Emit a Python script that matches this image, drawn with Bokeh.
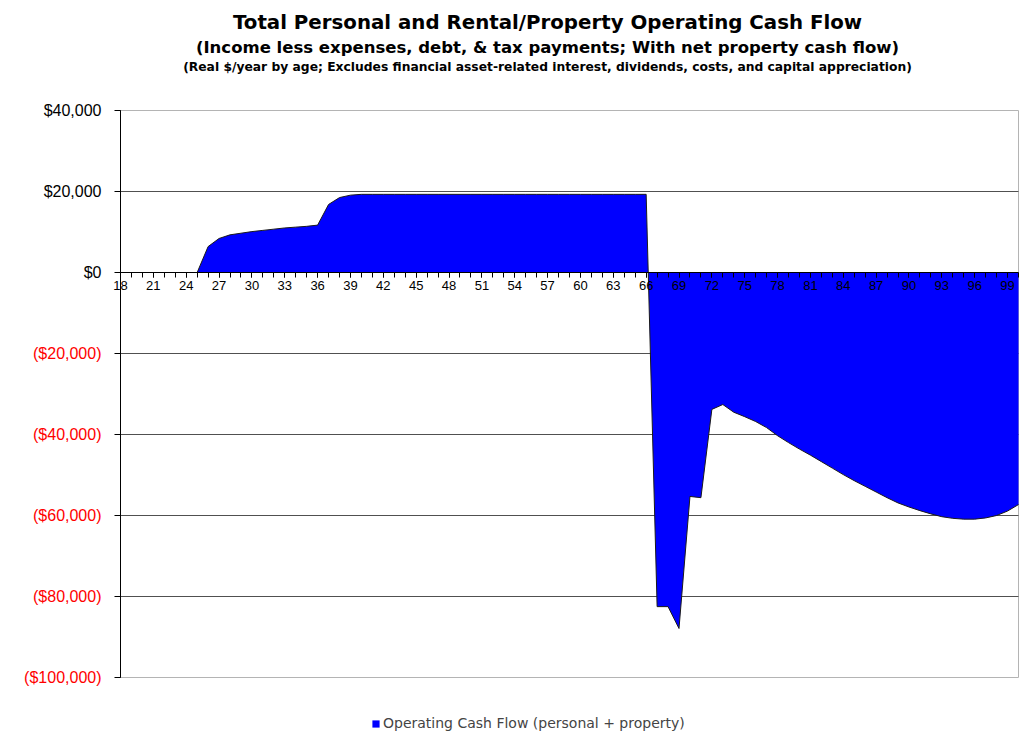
from bokeh.plotting import figure
from bokeh.models import (Range1d, FixedTicker, Label, ColumnDataSource,
                          Legend, LegendItem, LinearAxis)
from bokeh.embed import file_html
from bokeh.resources import INLINE

# ---------------- data ----------------
ages = list(range(18, 101))
cash_flow = [
    0, 0, 0, 0, 0, 0, 0,                      # 18-24
    0, 6400, 8400, 9300, 9700,                # 25-29
    10100, 10400, 10700, 11000, 11200,        # 30-34
    11400, 11700, 16800, 18500, 19100,        # 35-39
    19300, 19300, 19300, 19300, 19300,        # 40-44
    19300, 19300, 19300, 19300, 19300,        # 45-49
    19300, 19300, 19300, 19300, 19300,        # 50-54
    19300, 19300, 19300, 19300, 19300,        # 55-59
    19300, 19300, 19300, 19300, 19300,        # 60-64
    19300, 19300,                             # 65-66
    -82500, -82500, -87900,                   # 67-69
    -55300, -55600, -33800, -32600, -34500,   # 70-74
    -35600, -36800, -38300, -40300, -42000,   # 75-79
    -43600, -45100, -46700, -48300, -49900,   # 80-84
    -51400, -52800, -54200, -55600, -56900,   # 85-89
    -57900, -58800, -59600, -60300, -60700,   # 90-94
    -60900, -60900, -60600, -60000, -58900,   # 95-99
    -57300,                                   # 100
]
assert len(cash_flow) == len(ages)

x_tick_ages = list(range(18, 101, 3))
y_tick_values = [-100000, -80000, -60000, -40000, -20000, 0, 20000, 40000]
y_tick_labels = ["($100,000)", "($80,000)", "($60,000)", "($40,000)", "($20,000)",
                 "$0", "$20,000", "$40,000"]

title_text = "Total Personal and Rental/Property Operating Cash Flow"
subtitle1 = "(Income less expenses, debt, & tax payments; With net property cash flow)"
subtitle2 = ("(Real $/year by age; Excludes financial asset-related interest, dividends, "
             "costs, and capital appreciation)")
series_name = "Operating Cash Flow (personal + property)"

# ---------------- layout geometry (pixels) ----------------
W, H = 1024, 733
area_left, area_right, area_top, area_bottom = 120, 1018, 110, 677
x_lo, x_hi = ages[0], ages[-1]
y_lo, y_hi = y_tick_values[0], y_tick_values[-1]
ppx = (x_hi - x_lo) / (area_right - area_left)
ppy = (y_hi - y_lo) / (area_bottom - area_top)

p = figure(width=W, height=H, output_backend="svg", toolbar_location=None,
           x_range=Range1d(x_lo - area_left * ppx, x_hi + (W - area_right) * ppx),
           y_range=Range1d(y_lo - (H - area_bottom) * ppy, y_hi + area_top * ppy),
           x_axis_location=None, y_axis_location=None,
           min_border=0, min_border_left=0, min_border_right=0,
           min_border_top=0, min_border_bottom=0)
p.outline_line_color = None
p.grid.visible = False
p.background_fill_color = "white"
p.border_fill_color = "white"

# plot-area border (light gray)
p.quad(left=[x_lo], right=[x_hi], bottom=[y_lo], top=[y_hi], fill_color=None,
       line_color="#b4b4b4", line_width=1)

# horizontal gridlines
grid_vals = [v for v in y_tick_values if y_lo < v < y_hi and v != 0]
p.segment(x0=[x_lo] * len(grid_vals), x1=[x_hi] * len(grid_vals),
          y0=grid_vals, y1=grid_vals, line_color="#505050", line_width=1)

src = ColumnDataSource(dict(age=ages, cf=cash_flow, zero=[0] * len(ages)))
area = p.varea(x="age", y1="zero", y2="cf", source=src, fill_color="#0000FF")
p.line(x="age", y="cf", source=src, line_color="#1a1a1a", line_width=1)

# x axis crossing at zero
xa = LinearAxis(fixed_location=0, bounds=(x_lo, x_hi),
                ticker=FixedTicker(ticks=x_tick_ages, minor_ticks=ages))
xa.axis_line_color = "black"
xa.major_tick_in = 0
xa.major_tick_out = 5
xa.minor_tick_in = 0
xa.minor_tick_out = 5
xa.major_tick_line_color = "black"
xa.minor_tick_line_color = "black"
xa.major_label_standoff = 3
xa.major_label_text_font = "Liberation Sans"
xa.major_label_text_font_size = "13px"
xa.major_label_text_color = "black"
p.add_layout(xa, "below")

# y axis: positive labels black, negative labels red
pos_vals = [v for v in y_tick_values if v >= 0]
pos_labs = [lab for v, lab in zip(y_tick_values, y_tick_labels) if v >= 0]
neg_vals = [v for v in y_tick_values if v < 0]
neg_labs = [lab for v, lab in zip(y_tick_values, y_tick_labels) if v < 0]


def make_yaxis(vals, labs, color):
    ax = LinearAxis(fixed_location=x_lo, bounds=(y_lo, y_hi),
                    ticker=FixedTicker(ticks=vals))
    ax.major_label_overrides = dict(zip(vals, labs))
    ax.axis_line_color = "black"
    ax.major_tick_in = 0
    ax.major_tick_out = 6
    ax.major_tick_line_color = "black"
    ax.minor_tick_line_color = None
    ax.major_label_standoff = 13
    ax.major_label_text_font = "Liberation Sans"
    ax.major_label_text_font_size = "16px"
    ax.major_label_text_color = color
    p.add_layout(ax, "left")


make_yaxis(pos_vals, pos_labs, "black")
make_yaxis(neg_vals, neg_labs, "#FF0000")

# titles (screen units from canvas bottom-left)
cx = 547
for txt, yy, size in [(title_text, 22, "19.8px"), (subtitle1, 47, "16.5px"),
                      (subtitle2, 66, "12.3px")]:
    p.add_layout(Label(x=cx, y=H - yy, x_units="screen", y_units="screen", text=txt,
                       text_align="center", text_baseline="middle",
                       text_font="DejaVu Sans", text_font_style="bold",
                       text_font_size=size, text_color="black"))

legend = Legend(items=[LegendItem(label=series_name, renderers=[area])],
                location=(371, 2), orientation="horizontal",
                label_text_font="DejaVu Sans", label_text_font_size="14px",
                glyph_width=9, glyph_height=9, label_standoff=3, padding=0, margin=0,
                border_line_color=None, background_fill_alpha=0)
p.add_layout(legend, "center")

open("out.html", "w").write(file_html(p, INLINE))
